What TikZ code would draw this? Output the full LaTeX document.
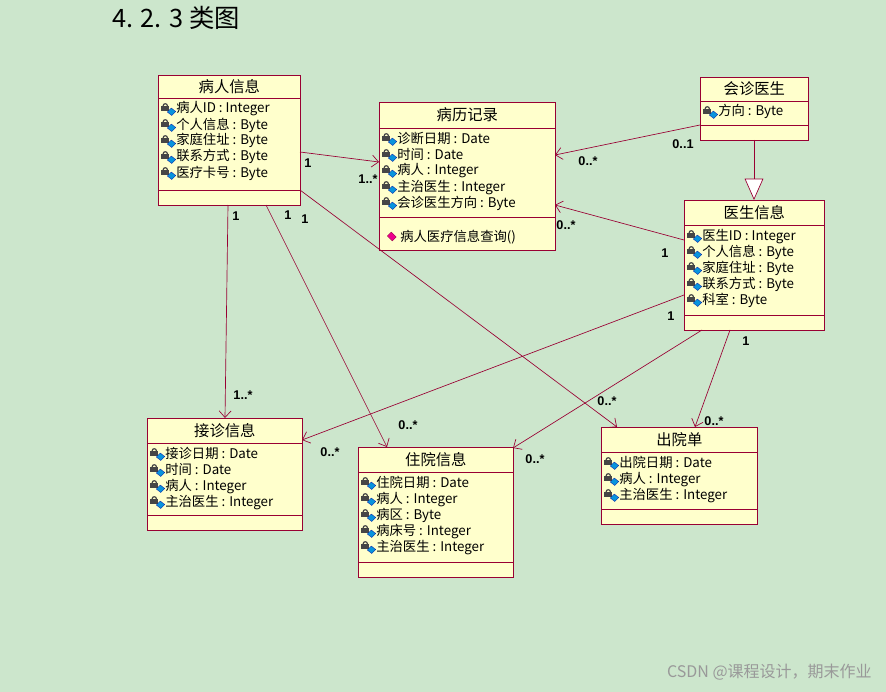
\documentclass[tikz,border=0pt]{standalone}
\usepackage{fontspec}
\setmainfont{Liberation Sans}
\newfontfamily\cjk{Noto Sans CJK SC}
\usetikzlibrary{arrows.meta,calc}
\definecolor{bg}{HTML}{CCE6CC}
\definecolor{box}{HTML}{FFFFCC}
\definecolor{ln}{HTML}{990033}
\newcommand\ico{\tikz[baseline=0pt,x=0.75pt,y=0.75pt]{\useasboundingbox (0,-1) rectangle (15,10);\fill[gray!55!black] (0,2) rectangle (8,7);\draw[gray!55!black,line width=0.9pt] (1.8,7) arc(180:0:2.2 and 2.3);\fill[cyan!80!blue,draw=blue!60!black,line width=0.2pt] (6,1)--(10,5)--(14.5,1.5)--(10.5,-2.5)--cycle;}}
\newcommand\opico{\tikz[baseline=0pt,x=0.75pt,y=0.75pt]{\useasboundingbox (0,-1) rectangle (14,10);\fill[magenta,draw=purple!60!black,line width=0.2pt] (1,5)--(5,9)--(10,4)--(6,0)--cycle;}}
\begin{document}
\begin{tikzpicture}[x=0.75pt,y=-0.75pt,
  cls/.style={draw=ln,fill=box,line width=0.6pt},
  sep/.style={draw=ln,line width=0.6pt},
  ttl/.style={font=\cjk\fontsize{11.5}{12}\selectfont,inner sep=0pt},
  att/.style={font=\cjk\fontsize{10}{10}\selectfont,anchor=base west,inner sep=0pt},
  lab/.style={font=\fontsize{9.5}{10}\selectfont\bfseries,inner sep=0pt},
  assoc/.style={draw=ln,line width=0.5pt,-{Straight Barb[length=5pt,width=9pt]}}]
\fill[bg] (0,0) rectangle (886,692);
\useasboundingbox (0,0) rectangle (886,692);
\node[anchor=west,font=\cjk\fontsize{19}{20}\selectfont,inner sep=0pt] (h) at (112,18) {4. 2. 3 类图};
\node[anchor=east,font=\cjk\fontsize{12}{12}\selectfont,text=gray!80,inner sep=0pt] (wm) at (872,672) {CSDN @课程设计，期末作业};
% classes
\newcommand\cls[9]{%
 \node[cls,anchor=north west,minimum width=#3*0.75pt,minimum height=#4*0.75pt,inner sep=0pt] (#1) at (#2) {};
 \draw[sep] ($(#1.north west)+(0,#5)$) -- ($(#1.north east)+(0,#5)$);
 \draw[sep] ($(#1.north west)+(0,#6)$) -- ($(#1.north east)+(0,#6)$);
 \node[ttl] (#1t) at ($(#1.north)+(0,#5/2)$) {#7};
 \foreach \t [count=\i] in {#8} \node[att] at ($(#1.north west)+(3,#5+15+16*\i-16)$) {\ico{}\t};
}
\cls{br}{158,75}{142}{130}{23}{115}{病人信息}{病人ID : Integer,个人信息 : Byte,家庭住址 : Byte,联系方式 : Byte,医疗卡号 : Byte}{}
\cls{bl}{379,102}{176}{148}{26}{115}{病历记录}{诊断日期 : Date,时间 : Date,病人 : Integer,主治医生 : Integer,会诊医生方向 : Byte}{}
\node[att] (op) at (386,241) {\opico{}病人医疗信息查询()};
\cls{hz}{700,77}{108}{63}{24}{48}{会诊医生}{方向 : Byte}{}
\cls{ys}{684,200}{140}{130}{25}{115}{医生信息}{医生ID : Integer,个人信息 : Byte,家庭住址 : Byte,联系方式 : Byte,科室 : Byte}{}
\cls{jz}{147,418}{155}{112}{25}{97}{接诊信息}{接诊日期 : Date,时间 : Date,病人 : Integer,主治医生 : Integer}{}
\cls{zy}{358,447}{155}{130}{25}{115}{住院信息}{住院日期 : Date,病人 : Integer,病区 : Byte,病床号 : Integer,主治医生 : Integer}{}
\cls{cy}{601,427}{156}{97}{25}{82}{出院单}{出院日期 : Date,病人 : Integer,主治医生 : Integer}{}
% connectors
\draw[assoc] ($(br.north west)+(142,77)$) -- ($(bl.north west)+(0,60)$);
\draw[assoc] ($(hz.north west)+(0,48)$) -- ($(bl.north west)+(176,53)$);
\draw[assoc] ($(ys.north west)+(0,40)$) -- ($(bl.north west)+(176,103)$);
\draw[draw=ln,line width=0.5pt,-{Triangle[open,length=16pt,width=14pt,fill=white]}] ($(hz.north west)+(54,63)$) -- ($(ys.north west)+(70,0)$);
\draw[assoc] ($(br.north west)+(70,130)$) -- ($(jz.north west)+(78,0)$);
\draw[assoc] ($(br.north west)+(108,130)$) -- ($(zy.north west)+(29,0)$);
\draw[assoc] ($(br.north west)+(142,115)$) -- ($(cy.north west)+(16,0)$);
\draw[assoc] ($(ys.north west)+(0,95)$) -- ($(jz.north west)+(155,22)$);
\draw[assoc] ($(ys.north west)+(18,130)$) -- ($(zy.north west)+(155,1)$);
\draw[assoc] ($(ys.north west)+(46,130)$) -- ($(cy.north west)+(94,0)$);
% labels
\foreach \x/\y/\t in {308/163/1,368/179/1..*,683/144/0..1,588/161/0..*,665/253/1,566/225/0..*,236/216/1,243/395/1..*,288/215/1,408/425/0..*,305/219/1,607/401/0..*,330/452/0..*,671/316/1,535/459/0..*,746/341/1,714/421/0..*}{
 \node[lab] at (\x,\y) {\t};}
\end{tikzpicture}
\end{document}
